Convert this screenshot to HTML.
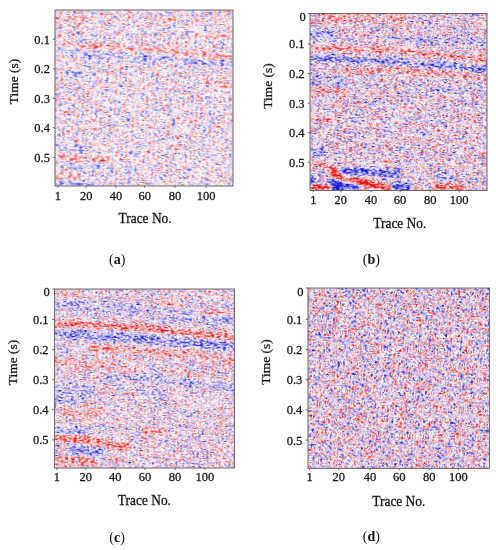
<!DOCTYPE html>
<html><head><meta charset="utf-8"><style>
html,body{margin:0;padding:0;background:#fff;width:496px;height:550px;overflow:hidden}
svg{display:block;font-family:"Liberation Serif", "Times New Roman", serif}
text{fill:#111;stroke:#111;stroke-width:0.25px}
text.lb{stroke-width:0}
</style></head><body>
<svg width="496" height="550" viewBox="0 0 496 550">
<defs>
<filter id="fa" x="0" y="0" width="1" height="1" color-interpolation-filters="sRGB">
<feGaussianBlur in="SourceGraphic" stdDeviation="1.5" result="s"/>
<feTurbulence type="fractalNoise" baseFrequency="0.22 0.45" numOctaves="2" seed="3"/>
<feColorMatrix type="matrix" values="1 0 0 0 0 0 1 0 0 0 0 0 1 0 0 0 0 0 0 1" result="t1"/>
<feTurbulence type="fractalNoise" baseFrequency="0.06 0.14" numOctaves="2" seed="53"/>
<feColorMatrix type="matrix" values="1 0 0 0 0 0 1 0 0 0 0 0 1 0 0 0 0 0 0 1" result="t2"/>
<feComposite in="t1" in2="t2" operator="arithmetic" k1="0" k2="1.05" k3="0.2" k4="-0.125" result="u"/>
<feComposite in="s" in2="u" operator="arithmetic" k1="0" k2="1" k3="1" k4="-0.5"/>
<feColorMatrix type="matrix" values="1 0 0 0 0 1 0 0 0 0 1 0 0 0 0 0 0 0 0 1"/>
<feComponentTransfer>
<feFuncR type="table" tableValues="0.08 1 0.9"/>
<feFuncG type="table" tableValues="0.08 1 0.06"/>
<feFuncB type="table" tableValues="0.85 1 0.06"/>
</feComponentTransfer>
<feGaussianBlur stdDeviation="0.6"/>
</filter>
<filter id="fb" x="0" y="0" width="1" height="1" color-interpolation-filters="sRGB">
<feGaussianBlur in="SourceGraphic" stdDeviation="1.5" result="s"/>
<feTurbulence type="fractalNoise" baseFrequency="0.28 0.6" numOctaves="2" seed="7"/>
<feColorMatrix type="matrix" values="1 0 0 0 0 0 1 0 0 0 0 0 1 0 0 0 0 0 0 1" result="t1"/>
<feTurbulence type="fractalNoise" baseFrequency="0.06 0.14" numOctaves="2" seed="57"/>
<feColorMatrix type="matrix" values="1 0 0 0 0 0 1 0 0 0 0 0 1 0 0 0 0 0 0 1" result="t2"/>
<feComposite in="t1" in2="t2" operator="arithmetic" k1="0" k2="1.45" k3="0.35" k4="-0.400" result="u"/>
<feComposite in="s" in2="u" operator="arithmetic" k1="0" k2="1" k3="1" k4="-0.5"/>
<feColorMatrix type="matrix" values="1 0 0 0 0 1 0 0 0 0 1 0 0 0 0 0 0 0 0 1"/>
<feComponentTransfer>
<feFuncR type="table" tableValues="0.08 1 0.9"/>
<feFuncG type="table" tableValues="0.08 1 0.06"/>
<feFuncB type="table" tableValues="0.85 1 0.06"/>
</feComponentTransfer>
<feGaussianBlur stdDeviation="0.6"/>
</filter>
<filter id="fc" x="0" y="0" width="1" height="1" color-interpolation-filters="sRGB">
<feGaussianBlur in="SourceGraphic" stdDeviation="1.5" result="s"/>
<feTurbulence type="fractalNoise" baseFrequency="0.3 0.6" numOctaves="2" seed="11"/>
<feColorMatrix type="matrix" values="1 0 0 0 0 0 1 0 0 0 0 0 1 0 0 0 0 0 0 1" result="t1"/>
<feTurbulence type="fractalNoise" baseFrequency="0.06 0.14" numOctaves="2" seed="61"/>
<feColorMatrix type="matrix" values="1 0 0 0 0 0 1 0 0 0 0 0 1 0 0 0 0 0 0 1" result="t2"/>
<feComposite in="t1" in2="t2" operator="arithmetic" k1="0" k2="1.25" k3="0.3" k4="-0.275" result="u"/>
<feComposite in="s" in2="u" operator="arithmetic" k1="0" k2="1" k3="1" k4="-0.5"/>
<feColorMatrix type="matrix" values="1 0 0 0 0 1 0 0 0 0 1 0 0 0 0 0 0 0 0 1"/>
<feComponentTransfer>
<feFuncR type="table" tableValues="0.08 1 0.9"/>
<feFuncG type="table" tableValues="0.08 1 0.06"/>
<feFuncB type="table" tableValues="0.85 1 0.06"/>
</feComponentTransfer>
<feGaussianBlur stdDeviation="0.6"/>
</filter>
<filter id="fd" x="0" y="0" width="1" height="1" color-interpolation-filters="sRGB">
<feGaussianBlur in="SourceGraphic" stdDeviation="1.5" result="s"/>
<feTurbulence type="fractalNoise" baseFrequency="0.38 0.38" numOctaves="2" seed="19"/>
<feColorMatrix type="matrix" values="1 0 0 0 0 0 1 0 0 0 0 0 1 0 0 0 0 0 0 1" result="t1"/>
<feTurbulence type="fractalNoise" baseFrequency="0.1 0.1" numOctaves="2" seed="69"/>
<feColorMatrix type="matrix" values="1 0 0 0 0 0 1 0 0 0 0 0 1 0 0 0 0 0 0 1" result="t2"/>
<feComposite in="t1" in2="t2" operator="arithmetic" k1="0" k2="1.6" k3="0.45" k4="-0.525" result="u"/>
<feComposite in="s" in2="u" operator="arithmetic" k1="0" k2="1" k3="1" k4="-0.5"/>
<feColorMatrix type="matrix" values="1 0 0 0 0 1 0 0 0 0 1 0 0 0 0 0 0 0 0 1"/>
<feComponentTransfer>
<feFuncR type="table" tableValues="0.08 1 0.9"/>
<feFuncG type="table" tableValues="0.08 1 0.06"/>
<feFuncB type="table" tableValues="0.85 1 0.06"/>
</feComponentTransfer>
<feGaussianBlur stdDeviation="0.5"/>
</filter>
</defs>
<clipPath id="ca"><rect x="55" y="10" width="178" height="176"/></clipPath>
<g clip-path="url(#ca)"><g transform="rotate(3 144.0 98.0)" filter="url(#fa)"><rect x="35" y="-10" width="218" height="216" fill="#808080"/><path d="M50.9,21.8 L115.8,19.4 L175.8,17.2 L228.8,15.4" stroke="rgb(143,143,143)" stroke-width="5" fill="none" stroke-linecap="round"/><path d="M51.1,25.8 L78.1,25.3" stroke="rgb(153,153,153)" stroke-width="5" fill="none" stroke-linecap="round"/><path d="M63.3,49.2 L87.4,48.9 L112.4,49.1 L142.4,49.0 L177.5,50.2 L207.7,51.6 L230.8,53.4" stroke="rgb(178,178,178)" stroke-width="4" fill="none" stroke-linecap="round"/><path d="M57.8,58.5 L97.9,58.4 L142.9,58.5 L188.0,58.6 L231.2,60.4" stroke="rgb(99,99,99)" stroke-width="7" fill="none" stroke-linecap="round"/><path d="M53.1,64.7 L71.2,64.8" stroke="rgb(153,153,153)" stroke-width="5" fill="none" stroke-linecap="round"/><path d="M64.8,77.1 L89.8,76.8" stroke="rgb(97,97,97)" stroke-width="6" fill="none" stroke-linecap="round"/><path d="M204.1,79.8 L232.2,80.4" stroke="rgb(168,168,168)" stroke-width="4" fill="none" stroke-linecap="round"/><path d="M204.7,32.7 L229.7,32.4" stroke="rgb(153,153,153)" stroke-width="4" fill="none" stroke-linecap="round"/><path d="M57.7,151.6 L84.7,151.2" stroke="rgb(92,92,92)" stroke-width="6" fill="none" stroke-linecap="round"/><path d="M58.2,161.6 L83.2,161.3 L113.3,161.7" stroke="rgb(158,158,158)" stroke-width="7" fill="none" stroke-linecap="round"/><path d="M67.7,171.1 L103.7,170.2" stroke="rgb(97,97,97)" stroke-width="6" fill="none" stroke-linecap="round"/><path d="M112.8,171.7 L140.8,171.3" stroke="rgb(92,92,92)" stroke-width="4" fill="none" stroke-linecap="round"/><path d="M59.2,179.6 L81.2,179.4" stroke="rgb(163,163,163)" stroke-width="6" fill="none" stroke-linecap="round"/><path d="M59.6,188.5 L95.6,186.7" stroke="rgb(82,82,82)" stroke-width="5" fill="none" stroke-linecap="round"/></g></g>
<rect x="55" y="10" width="178" height="176" fill="none" stroke="#6a6a6a" stroke-width="1"/>
<path d="M52.8,39.3h2.2M52.8,68.8h2.2M52.8,98.3h2.2M52.8,127.8h2.2M52.8,157.3h2.2M57.9,186.0v1.8M86.3,186.0v1.8M116.0,186.0v1.8M144.7,186.0v1.8M174.9,186.0v1.8M206.1,186.0v1.8" stroke="#555" stroke-width="0.9" fill="none"/>
<text transform="translate(49.9,43.8) scale(1,1.08)" text-anchor="end" font-size="12.5">0.1</text>
<text transform="translate(49.9,73.3) scale(1,1.08)" text-anchor="end" font-size="12.5">0.2</text>
<text transform="translate(49.9,102.8) scale(1,1.08)" text-anchor="end" font-size="12.5">0.3</text>
<text transform="translate(49.9,132.3) scale(1,1.08)" text-anchor="end" font-size="12.5">0.4</text>
<text transform="translate(49.9,161.8) scale(1,1.08)" text-anchor="end" font-size="12.5">0.5</text>
<text transform="translate(57.9,199.5) scale(1,1.08)" text-anchor="middle" font-size="12.5">1</text>
<text transform="translate(86.3,199.5) scale(1,1.08)" text-anchor="middle" font-size="12.5">20</text>
<text transform="translate(116.0,199.5) scale(1,1.08)" text-anchor="middle" font-size="12.5">40</text>
<text transform="translate(144.7,199.5) scale(1,1.08)" text-anchor="middle" font-size="12.5">60</text>
<text transform="translate(174.9,199.5) scale(1,1.08)" text-anchor="middle" font-size="12.5">80</text>
<text transform="translate(206.1,199.5) scale(1,1.08)" text-anchor="middle" font-size="12.5">100</text>
<text transform="translate(145.1,223.1) scale(1,1.03)" text-anchor="middle" font-size="13.4">Trace No.</text>
<text transform="translate(117.2,264.2)" text-anchor="middle" font-size="14" class="lb">(<tspan font-weight="bold">a</tspan>)</text>
<text transform="translate(18.0,81.5) rotate(-90)" text-anchor="middle" font-size="13.4">Time (s)</text>
<clipPath id="cb"><rect x="310" y="13.5" width="177" height="177"/></clipPath>
<g clip-path="url(#cb)"><g transform="rotate(5 398.5 102.0)" filter="url(#fb)"><rect x="290" y="-6.5" width="217" height="217" fill="#808080"/><path d="M303.0,26.0 L392.7,18.2" stroke="rgb(158,158,158)" stroke-width="9" fill="none" stroke-linecap="round"/><path d="M304.5,43.0 L324.5,42.2" stroke="rgb(92,92,92)" stroke-width="10" fill="none" stroke-linecap="round"/><path d="M414.5,38.4 L484.5,35.2" stroke="rgb(97,97,97)" stroke-width="7" fill="none" stroke-linecap="round"/><path d="M305.6,55.4 L395.5,51.1 L486.0,52.2" stroke="rgb(189,189,189)" stroke-width="4" fill="none" stroke-linecap="round"/><path d="M306.5,66.4 L396.5,62.0 L486.9,62.1" stroke="rgb(66,66,66)" stroke-width="5.5" fill="none" stroke-linecap="round"/><path d="M343.5,75.7 L416.4,71.3 L487.6,70.1" stroke="rgb(171,171,171)" stroke-width="6" fill="none" stroke-linecap="round"/><path d="M308.3,86.8 L338.3,85.2" stroke="rgb(97,97,97)" stroke-width="10" fill="none" stroke-linecap="round"/><path d="M417.8,87.3 L488.7,83.1" stroke="rgb(97,97,97)" stroke-width="6" fill="none" stroke-linecap="round"/><path d="M309.5,99.8 L345.3,96.6" stroke="rgb(158,158,158)" stroke-width="7" fill="none" stroke-linecap="round"/><path d="M312.0,128.6 L329.9,127.1" stroke="rgb(163,163,163)" stroke-width="6" fill="none" stroke-linecap="round"/><path d="M314.8,160.5 L329.8,160.2" stroke="rgb(87,87,87)" stroke-width="8" fill="none" stroke-linecap="round"/><path d="M315.7,170.5 L335.7,169.7" stroke="rgb(158,158,158)" stroke-width="7" fill="none" stroke-linecap="round"/><path d="M350.2,175.5 L376.2,174.2 L403.2,172.9" stroke="rgb(59,59,59)" stroke-width="8" fill="none" stroke-linecap="round"/><path d="M316.8,183.4 L320.9,185.1" stroke="rgb(76,76,76)" stroke-width="6" fill="none" stroke-linecap="round"/><path d="M340.5,179.3 L351.0,184.5 L369.2,185.4 L382.3,186.7 L398.6,188.8" stroke="rgb(245,245,245)" stroke-width="6" fill="none" stroke-linecap="round"/><path d="M338.2,175.5 L344.4,178.0" stroke="rgb(230,230,230)" stroke-width="5" fill="none" stroke-linecap="round"/><path d="M337.5,191.2 L348.5,190.2" stroke="rgb(0,0,0)" stroke-width="11" fill="none" stroke-linecap="round"/><path d="M316.6,192.5 L326.6,192.6" stroke="rgb(5,5,5)" stroke-width="10" fill="none" stroke-linecap="round"/><path d="M320.7,194.1 L336.7,192.7" stroke="rgb(235,235,235)" stroke-width="6" fill="none" stroke-linecap="round"/><path d="M352.5,190.3 L363.6,190.4" stroke="rgb(36,36,36)" stroke-width="7" fill="none" stroke-linecap="round"/><path d="M401.3,186.1 L415.3,184.9" stroke="rgb(41,41,41)" stroke-width="7" fill="none" stroke-linecap="round"/><path d="M446.4,173.1 L460.4,172.9" stroke="rgb(76,76,76)" stroke-width="6" fill="none" stroke-linecap="round"/><path d="M443.3,183.4 L469.2,181.1" stroke="rgb(214,214,214)" stroke-width="6" fill="none" stroke-linecap="round"/></g></g>
<rect x="310" y="13.5" width="177" height="177" fill="none" stroke="#6a6a6a" stroke-width="1"/>
<path d="M307.8,13.5h2.2M307.8,43.9h2.2M307.8,73.5h2.2M307.8,103.1h2.2M307.8,132.7h2.2M307.8,162.3h2.2M313.4,190.5v1.8M340.8,190.5v1.8M371.0,190.5v1.8M400.1,190.5v1.8M430.3,190.5v1.8M459.2,190.5v1.8" stroke="#555" stroke-width="0.9" fill="none"/>
<text transform="translate(305.7,21.0) scale(1,1.08)" text-anchor="end" font-size="12.5">0</text>
<text transform="translate(304.6,48.4) scale(1,1.08)" text-anchor="end" font-size="12.5">0.1</text>
<text transform="translate(304.6,78.0) scale(1,1.08)" text-anchor="end" font-size="12.5">0.2</text>
<text transform="translate(304.6,107.6) scale(1,1.08)" text-anchor="end" font-size="12.5">0.3</text>
<text transform="translate(304.6,137.2) scale(1,1.08)" text-anchor="end" font-size="12.5">0.4</text>
<text transform="translate(304.6,166.8) scale(1,1.08)" text-anchor="end" font-size="12.5">0.5</text>
<text transform="translate(313.4,204.3) scale(1,1.08)" text-anchor="middle" font-size="12.5">1</text>
<text transform="translate(340.8,204.3) scale(1,1.08)" text-anchor="middle" font-size="12.5">20</text>
<text transform="translate(371.0,204.3) scale(1,1.08)" text-anchor="middle" font-size="12.5">40</text>
<text transform="translate(400.1,204.3) scale(1,1.08)" text-anchor="middle" font-size="12.5">60</text>
<text transform="translate(430.3,204.3) scale(1,1.08)" text-anchor="middle" font-size="12.5">80</text>
<text transform="translate(459.2,204.3) scale(1,1.08)" text-anchor="middle" font-size="12.5">100</text>
<text transform="translate(399.8,227.8) scale(1,1.03)" text-anchor="middle" font-size="13.4">Trace No.</text>
<text transform="translate(371.4,264.3)" text-anchor="middle" font-size="14" class="lb">(<tspan font-weight="bold">b</tspan>)</text>
<text transform="translate(272.3,86.0) rotate(-90)" text-anchor="middle" font-size="13.4">Time (s)</text>
<clipPath id="cc"><rect x="54.5" y="289" width="180" height="179"/></clipPath>
<g clip-path="url(#cc)"><g transform="rotate(5.5 144.5 378.5)" filter="url(#fc)"><rect x="34.5" y="269" width="220" height="219" fill="#808080"/><path d="M47.3,303.0 L67.2,301.1" stroke="rgb(148,148,148)" stroke-width="10" fill="none" stroke-linecap="round"/><path d="M48.5,314.9 L138.1,307.3 L228.2,303.6" stroke="rgb(102,102,102)" stroke-width="12" fill="none" stroke-linecap="round"/><path d="M137.8,303.3 L173.7,300.8" stroke="rgb(145,145,145)" stroke-width="8" fill="none" stroke-linecap="round"/><path d="M192.3,306.1 L228.3,304.6" stroke="rgb(153,153,153)" stroke-width="7" fill="none" stroke-linecap="round"/><path d="M157.3,318.5 L229.2,313.6" stroke="rgb(97,97,97)" stroke-width="7" fill="none" stroke-linecap="round"/><path d="M50.1,332.3 L95.1,330.0 L140.2,328.7 L185.3,327.9 L230.6,328.5" stroke="rgb(194,194,194)" stroke-width="6" fill="none" stroke-linecap="round"/><path d="M51.1,342.3 L96.1,340.5 L141.2,339.1 L186.4,338.8 L231.6,338.5" stroke="rgb(76,76,76)" stroke-width="9" fill="none" stroke-linecap="round"/><path d="M88.2,352.3 L142.4,351.1 L196.5,349.9 L233.0,353.4" stroke="rgb(166,166,166)" stroke-width="7" fill="none" stroke-linecap="round"/><path d="M52.7,358.7 L70.6,357.0" stroke="rgb(107,107,107)" stroke-width="6" fill="none" stroke-linecap="round"/><path d="M54.0,372.6 L108.0,369.5 L162.4,371.3 L209.7,371.7" stroke="rgb(153,153,153)" stroke-width="10" fill="none" stroke-linecap="round"/><path d="M148.8,365.5 L159.5,372.5" stroke="rgb(102,102,102)" stroke-width="8" fill="none" stroke-linecap="round"/><path d="M109.0,380.4 L144.9,378.0 L181.1,377.5 L235.3,377.3" stroke="rgb(97,97,97)" stroke-width="8" fill="none" stroke-linecap="round"/><path d="M56.6,399.5 L92.6,398.1" stroke="rgb(94,94,94)" stroke-width="12" fill="none" stroke-linecap="round"/><path d="M146.5,393.9 L164.5,393.2" stroke="rgb(102,102,102)" stroke-width="8" fill="none" stroke-linecap="round"/><path d="M57.5,408.5 L75.5,407.7" stroke="rgb(97,97,97)" stroke-width="8" fill="none" stroke-linecap="round"/><path d="M63.6,419.9 L103.5,417.1" stroke="rgb(161,161,161)" stroke-width="9" fill="none" stroke-linecap="round"/><path d="M149.9,429.7 L167.9,428.0" stroke="rgb(158,158,158)" stroke-width="8" fill="none" stroke-linecap="round"/><path d="M60.3,438.3 L96.3,435.9" stroke="rgb(87,87,87)" stroke-width="7" fill="none" stroke-linecap="round"/><path d="M61.1,446.3 L86.1,444.9 L115.4,447.1 L134.7,449.3" stroke="rgb(189,189,189)" stroke-width="7" fill="none" stroke-linecap="round"/><path d="M80.2,456.5 L107.2,454.9" stroke="rgb(71,71,71)" stroke-width="8" fill="none" stroke-linecap="round"/><path d="M63.3,469.2 L99.2,465.7" stroke="rgb(173,173,173)" stroke-width="8" fill="none" stroke-linecap="round"/></g></g>
<rect x="54.5" y="289" width="180" height="179" fill="none" stroke="#6a6a6a" stroke-width="1"/>
<path d="M52.3,289.0h2.2M52.3,319.5h2.2M52.3,349.6h2.2M52.3,379.7h2.2M52.3,409.8h2.2M52.3,439.9h2.2M56.8,468.0v1.8M85.8,468.0v1.8M115.2,468.0v1.8M144.9,468.0v1.8M175.1,468.0v1.8M204.9,468.0v1.8" stroke="#555" stroke-width="0.9" fill="none"/>
<text transform="translate(49.7,296.3) scale(1,1.08)" text-anchor="end" font-size="12.5">0</text>
<text transform="translate(48.6,324.0) scale(1,1.08)" text-anchor="end" font-size="12.5">0.1</text>
<text transform="translate(48.6,354.1) scale(1,1.08)" text-anchor="end" font-size="12.5">0.2</text>
<text transform="translate(48.6,384.2) scale(1,1.08)" text-anchor="end" font-size="12.5">0.3</text>
<text transform="translate(48.6,414.3) scale(1,1.08)" text-anchor="end" font-size="12.5">0.4</text>
<text transform="translate(48.6,444.4) scale(1,1.08)" text-anchor="end" font-size="12.5">0.5</text>
<text transform="translate(56.8,480.5) scale(1,1.08)" text-anchor="middle" font-size="12.5">1</text>
<text transform="translate(85.8,480.5) scale(1,1.08)" text-anchor="middle" font-size="12.5">20</text>
<text transform="translate(115.2,480.5) scale(1,1.08)" text-anchor="middle" font-size="12.5">40</text>
<text transform="translate(144.9,480.5) scale(1,1.08)" text-anchor="middle" font-size="12.5">60</text>
<text transform="translate(175.1,480.5) scale(1,1.08)" text-anchor="middle" font-size="12.5">80</text>
<text transform="translate(204.9,480.5) scale(1,1.08)" text-anchor="middle" font-size="12.5">100</text>
<text transform="translate(144.4,505.4) scale(1,1.03)" text-anchor="middle" font-size="13.4">Trace No.</text>
<text transform="translate(117.1,541.5)" text-anchor="middle" font-size="14" class="lb">(<tspan font-weight="bold">c</tspan>)</text>
<text transform="translate(16.7,362.5) rotate(-90)" text-anchor="middle" font-size="13.4">Time (s)</text>
<clipPath id="cd"><rect x="308" y="288" width="181.5" height="180.4"/></clipPath>
<g clip-path="url(#cd)"><g transform="rotate(4 398.8 378.2)" filter="url(#fd)"><rect x="288" y="268" width="221.5" height="220.4" fill="#808080"/></g></g>
<rect x="308" y="288" width="181.5" height="180.4" fill="none" stroke="#6a6a6a" stroke-width="1"/>
<path d="M305.8,288.0h2.2M305.8,319.3h2.2M305.8,349.5h2.2M305.8,379.7h2.2M305.8,409.9h2.2M305.8,440.1h2.2M309.5,468.4v1.8M338.7,468.4v1.8M369.9,468.4v1.8M399.2,468.4v1.8M429.2,468.4v1.8M458.4,468.4v1.8" stroke="#555" stroke-width="0.9" fill="none"/>
<text transform="translate(303.4,295.8) scale(1,1.08)" text-anchor="end" font-size="12.5">0</text>
<text transform="translate(302.3,323.8) scale(1,1.08)" text-anchor="end" font-size="12.5">0.1</text>
<text transform="translate(302.3,354.0) scale(1,1.08)" text-anchor="end" font-size="12.5">0.2</text>
<text transform="translate(302.3,384.2) scale(1,1.08)" text-anchor="end" font-size="12.5">0.3</text>
<text transform="translate(302.3,414.4) scale(1,1.08)" text-anchor="end" font-size="12.5">0.4</text>
<text transform="translate(302.3,444.6) scale(1,1.08)" text-anchor="end" font-size="12.5">0.5</text>
<text transform="translate(309.5,481.2) scale(1,1.08)" text-anchor="middle" font-size="12.5">1</text>
<text transform="translate(338.7,481.2) scale(1,1.08)" text-anchor="middle" font-size="12.5">20</text>
<text transform="translate(369.9,481.2) scale(1,1.08)" text-anchor="middle" font-size="12.5">40</text>
<text transform="translate(399.2,481.2) scale(1,1.08)" text-anchor="middle" font-size="12.5">60</text>
<text transform="translate(429.2,481.2) scale(1,1.08)" text-anchor="middle" font-size="12.5">80</text>
<text transform="translate(458.4,481.2) scale(1,1.08)" text-anchor="middle" font-size="12.5">100</text>
<text transform="translate(398.8,506.1) scale(1,1.03)" text-anchor="middle" font-size="13.4">Trace No.</text>
<text transform="translate(371.4,541.2)" text-anchor="middle" font-size="14" class="lb">(<tspan font-weight="bold">d</tspan>)</text>
<text transform="translate(270.3,362.0) rotate(-90)" text-anchor="middle" font-size="13.4">Time (s)</text>
</svg>
</body></html>
